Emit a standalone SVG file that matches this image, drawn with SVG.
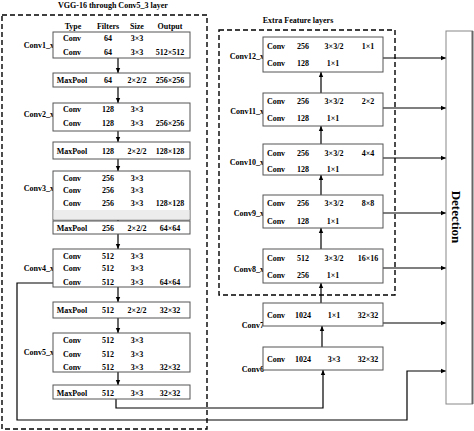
<svg xmlns="http://www.w3.org/2000/svg" width="474" height="431" viewBox="0 0 474 431">
<defs>
<marker id="ah" markerWidth="6" markerHeight="6" refX="5" refY="3" orient="auto" markerUnits="userSpaceOnUse">
<path d="M0,0.8 L5,3 L0,5.2 Z" fill="#000"/>
</marker>
<style>
text{font-family:"Liberation Serif","Times New Roman",serif;font-weight:bold;font-size:8px;fill:#000}
.c{text-anchor:middle}
.e{text-anchor:end}
.box{fill:#fff;stroke:#555;stroke-width:1}
.dash{fill:none;stroke:#000;stroke-width:1.4;stroke-dasharray:5,3}
.ln{fill:none;stroke:#000;stroke-width:1.2}
.ar{fill:none;stroke:#000;stroke-width:1.2;marker-end:url(#ah)}
</style>
</defs>
<rect width="474" height="431" fill="#fff"/>

<g id="vgg-frame">
<rect class="dash" x="2" y="15" width="205" height="414"/>
<text class="c" x="113" y="8">VGG-16 through Conv5_3 layer</text>
<text class="c" x="73" y="29">Type</text>
<text class="c" x="108" y="29">Filters</text>
<text class="c" x="137" y="29">Size</text>
<text class="c" x="170" y="29">Output</text>
</g>

<g id="extra-frame">
<rect class="dash" x="219" y="30" width="176" height="265"/>
<text class="c" x="298" y="23">Extra Feature layers</text>
</g>

<g id="connectors">
<line class="ar" x1="118" y1="58" x2="118" y2="73"/>
<line class="ar" x1="118" y1="87" x2="118" y2="103"/>
<line class="ar" x1="118" y1="131" x2="118" y2="142"/>
<line class="ar" x1="118" y1="159" x2="118" y2="171"/>
<line class="ar" x1="118" y1="210" x2="118" y2="221"/>
<line class="ar" x1="118" y1="234" x2="118" y2="249"/>
<line class="ar" x1="118" y1="287" x2="118" y2="302"/>
<line class="ar" x1="118" y1="318" x2="118" y2="333"/>
<line class="ar" x1="118" y1="372" x2="118" y2="385"/>
<polyline class="ar" points="53,283 17,283 17,420 407,420 407,371 446,371"/>
<polyline class="ar" points="116,399 116,408 323,408 323,370"/>
<line class="ar" x1="322" y1="347" x2="322" y2="326"/>
<line class="ar" x1="321" y1="303" x2="321" y2="283"/>
<line class="ar" x1="321" y1="249" x2="321" y2="228"/>
<line class="ar" x1="321" y1="195" x2="321" y2="175"/>
<line class="ar" x1="321" y1="144" x2="321" y2="126"/>
<line class="ar" x1="321" y1="93" x2="321" y2="72"/>
<line class="ar" x1="383" y1="58" x2="446" y2="58"/>
<line class="ar" x1="383" y1="108" x2="446" y2="108"/>
<line class="ar" x1="383" y1="158" x2="446" y2="158"/>
<line class="ar" x1="383" y1="213" x2="446" y2="213"/>
<line class="ar" x1="383" y1="268" x2="446" y2="268"/>
<line class="ar" x1="383" y1="323" x2="446" y2="323"/>
</g>

<g id="conv1">
<text class="e" x="54" y="48">Conv1_x</text>
<rect class="box" x="53" y="32" width="137" height="26"/>
<text class="c" x="72" y="41">Conv</text><text class="c" x="108" y="41">64</text><text class="c" x="137" y="41">3×3</text>
<text class="c" x="72" y="55">Conv</text><text class="c" x="108" y="55">64</text><text class="c" x="137" y="55">3×3</text><text class="c" x="170" y="55">512×512</text>
</g>
<g id="pool1">
<rect class="box" x="53" y="73" width="137" height="14"/>
<text class="c" x="72" y="83">MaxPool</text><text class="c" x="108" y="83">64</text><text class="c" x="137" y="83">2×2/2</text><text class="c" x="170" y="83">256×256</text>
</g>
<g id="conv2">
<text class="e" x="54" y="117">Conv2_x</text>
<rect class="box" x="53" y="103" width="137" height="28"/>
<text class="c" x="72" y="112">Conv</text><text class="c" x="108" y="112">128</text><text class="c" x="137" y="112">3×3</text>
<text class="c" x="72" y="126">Conv</text><text class="c" x="108" y="126">128</text><text class="c" x="137" y="126">3×3</text><text class="c" x="170" y="126">256×256</text>
</g>
<g id="pool2">
<rect class="box" x="53" y="142" width="137" height="17"/>
<text class="c" x="72" y="153.5">MaxPool</text><text class="c" x="108" y="153.5">128</text><text class="c" x="137" y="153.5">2×2/2</text><text class="c" x="170" y="153.5">128×128</text>
</g>
<g id="conv3">
<text class="e" x="54" y="191">Conv3_x</text>
<rect class="box" x="53" y="171" width="137" height="49"/>
<rect x="53.5" y="210" width="136" height="9.5" fill="#ececec"/>
<text class="c" x="72" y="181">Conv</text><text class="c" x="108" y="181">256</text><text class="c" x="137" y="181">3×3</text>
<text class="c" x="72" y="193">Conv</text><text class="c" x="108" y="193">256</text><text class="c" x="137" y="193">3×3</text>
<text class="c" x="72" y="206">Conv</text><text class="c" x="108" y="206">256</text><text class="c" x="137" y="206">3×3</text><text class="c" x="170" y="206">128×128</text>
</g>
<g id="pool3">
<rect class="box" x="53" y="221" width="137" height="13"/>
<text class="c" x="72" y="231">MaxPool</text><text class="c" x="108" y="231">256</text><text class="c" x="137" y="231">2×2/2</text><text class="c" x="170" y="231">64×64</text>
</g>
<g id="conv4">
<text class="e" x="54" y="271">Conv4_x</text>
<rect class="box" x="53" y="249" width="137" height="38"/>
<text class="c" x="72" y="259">Conv</text><text class="c" x="108" y="259">512</text><text class="c" x="137" y="259">3×3</text>
<text class="c" x="72" y="271">Conv</text><text class="c" x="108" y="271">512</text><text class="c" x="137" y="271">3×3</text>
<text class="c" x="72" y="285">Conv</text><text class="c" x="108" y="285">512</text><text class="c" x="137" y="285">3×3</text><text class="c" x="170" y="285">64×64</text>
</g>
<g id="pool4">
<rect class="box" x="53" y="302" width="137" height="16"/>
<text class="c" x="72" y="313">MaxPool</text><text class="c" x="108" y="313">512</text><text class="c" x="137" y="313">2×2/2</text><text class="c" x="170" y="313">32×32</text>
</g>
<g id="conv5">
<text class="e" x="54" y="355">Conv5_x</text>
<rect class="box" x="53" y="333" width="137" height="39"/>
<text class="c" x="72" y="343">Conv</text><text class="c" x="108" y="343">512</text><text class="c" x="137" y="343">3×3</text>
<text class="c" x="72" y="357">Conv</text><text class="c" x="108" y="357">512</text><text class="c" x="137" y="357">3×3</text>
<text class="c" x="72" y="370">Conv</text><text class="c" x="108" y="370">512</text><text class="c" x="137" y="370">3×3</text><text class="c" x="170" y="370">32×32</text>
</g>
<g id="pool5">
<rect class="box" x="53" y="385" width="137" height="14"/>
<text class="c" x="72" y="396">MaxPool</text><text class="c" x="108" y="396">512</text><text class="c" x="137" y="396">3×3</text><text class="c" x="170" y="396">32×32</text>
</g>

<g id="conv12">
<text class="e" x="264" y="59">Conv12_x</text>
<rect class="box" x="263" y="37" width="120" height="35"/>
<text class="c" x="276" y="49">Conv</text><text class="c" x="303" y="49">256</text><text class="c" x="334" y="49">3×3/2</text><text class="c" x="368" y="49">1×1</text>
<text class="c" x="276" y="66">Conv</text><text class="c" x="303" y="66">128</text><text class="c" x="333" y="66">1×1</text>
</g>
<g id="conv11">
<text class="e" x="264" y="114">Conv11_x</text>
<rect class="box" x="263" y="93" width="120" height="33"/>
<text class="c" x="276" y="104">Conv</text><text class="c" x="303" y="104">256</text><text class="c" x="334" y="104">3×3/2</text><text class="c" x="368" y="104">2×2</text>
<text class="c" x="276" y="121">Conv</text><text class="c" x="303" y="121">128</text><text class="c" x="333" y="121">1×1</text>
</g>
<g id="conv10">
<text class="e" x="264" y="165">Conv10_x</text>
<rect class="box" x="263" y="144" width="120" height="31"/>
<text class="c" x="276" y="156">Conv</text><text class="c" x="303" y="156">256</text><text class="c" x="334" y="156">3×3/2</text><text class="c" x="368" y="156">4×4</text>
<text class="c" x="276" y="172">Conv</text><text class="c" x="303" y="172">128</text><text class="c" x="333" y="172">1×1</text>
</g>
<g id="conv9">
<text class="e" x="264" y="216">Conv9_x</text>
<rect class="box" x="263" y="195" width="120" height="33"/>
<text class="c" x="276" y="206">Conv</text><text class="c" x="303" y="206">256</text><text class="c" x="334" y="206">3×3/2</text><text class="c" x="368" y="206">8×8</text>
<text class="c" x="276" y="224">Conv</text><text class="c" x="303" y="224">128</text><text class="c" x="333" y="224">1×1</text>
</g>
<g id="conv8">
<text class="e" x="264" y="272">Conv8_x</text>
<rect class="box" x="263" y="249" width="120" height="34"/>
<text class="c" x="276" y="261">Conv</text><text class="c" x="303" y="261">512</text><text class="c" x="334" y="261">3×3/2</text><text class="c" x="368" y="261">16×16</text>
<text class="c" x="276" y="278">Conv</text><text class="c" x="303" y="278">256</text><text class="c" x="333" y="278">1×1</text>
</g>
<g id="conv7">
<text class="e" x="264" y="328">Conv7</text>
<rect class="box" x="263" y="303" width="120" height="23"/>
<text class="c" x="276" y="318">Conv</text><text class="c" x="303" y="318">1024</text><text class="c" x="334" y="318">1×1</text><text class="c" x="368" y="318">32×32</text>
</g>
<g id="conv6">
<text class="e" x="264" y="372">Conv6</text>
<rect class="box" x="263" y="347" width="120" height="23"/>
<text class="c" x="276" y="362">Conv</text><text class="c" x="303" y="362">1024</text><text class="c" x="334" y="362">3×3</text><text class="c" x="368" y="362">32×32</text>
</g>

<g id="detection">
<rect x="446" y="31" width="26.5" height="373" fill="#fff" stroke="#888" stroke-width="1"/>
<line x1="472.5" y1="31" x2="472.5" y2="404" stroke="#666" stroke-width="2"/>
<text class="c" x="0" y="0" transform="translate(456,217) rotate(90)" style="font-size:13px" dominant-baseline="central">Detection</text>
</g>
</svg>
